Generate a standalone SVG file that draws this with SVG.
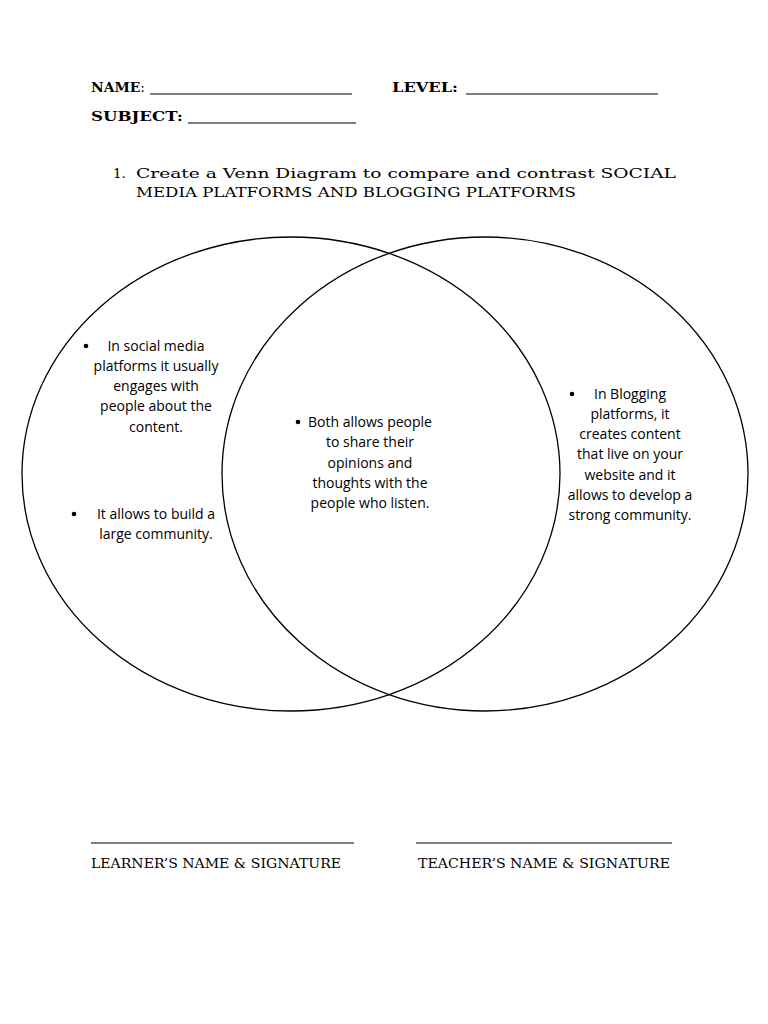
<svg xmlns="http://www.w3.org/2000/svg" width="768" height="1024" viewBox="0 0 768 1024">
<style>
.h{font-family:"DejaVu Serif","Liberation Serif",serif;font-size:13.5px;fill:#000}
.b{font-weight:bold}
.t{font-family:"Open Sans","Liberation Sans",sans-serif;font-size:14px;fill:#000;text-anchor:middle}
.c{fill:none;stroke:#000;stroke-width:1.3}
.l{stroke:#000;stroke-width:1}
</style>
<rect width="768" height="1024" fill="#fff"/>
<g id="header">
<text class="h b" x="91" y="92" textLength="54" lengthAdjust="spacingAndGlyphs">NAME<tspan font-weight="normal">:</tspan></text>
<line class="l" x1="150" y1="94" x2="352" y2="94"/>
<text class="h b" x="392" y="92" textLength="66" lengthAdjust="spacingAndGlyphs">LEVEL:</text>
<line class="l" x1="466" y1="94" x2="658" y2="94"/>
<text class="h b" x="91" y="121" textLength="92" lengthAdjust="spacingAndGlyphs">SUBJECT:</text>
<line class="l" x1="188" y1="123" x2="356" y2="123"/>
<text class="h" x="113" y="178">1.</text>
<text class="h" x="136" y="178" font-size="14" textLength="540" lengthAdjust="spacingAndGlyphs">Create a Venn Diagram to compare and contrast SOCIAL</text>
<text class="h" x="136" y="197" textLength="440" lengthAdjust="spacingAndGlyphs">MEDIA PLATFORMS AND BLOGGING PLATFORMS</text>
</g>
<g id="left-circle"><ellipse class="c" cx="291" cy="474" rx="269" ry="237"/></g>
<g id="right-circle"><ellipse class="c" cx="485" cy="474" rx="263" ry="237"/></g>
<g id="left-text">
<circle cx="86" cy="346" r="2.3"/>
<text class="t" x="156" y="351">In social media</text>
<text class="t" x="156" y="371">platforms it usually</text>
<text class="t" x="156" y="391">engages with</text>
<text class="t" x="156" y="411">people about the</text>
<text class="t" x="156" y="432">content.</text>
<circle cx="74" cy="514" r="2.3"/>
<text class="t" x="156" y="519">It allows to build a</text>
<text class="t" x="156" y="539">large community.</text>
</g>
<g id="center-text">
<circle cx="298" cy="422" r="2.3"/>
<text class="t" x="370" y="427">Both allows people</text>
<text class="t" x="370" y="447">to share their</text>
<text class="t" x="370" y="468">opinions and</text>
<text class="t" x="370" y="488">thoughts with the</text>
<text class="t" x="370" y="508">people who listen.</text>
</g>
<g id="right-text">
<circle cx="572" cy="394" r="2.3"/>
<text class="t" x="630" y="399">In Blogging</text>
<text class="t" x="630" y="419">platforms, it</text>
<text class="t" x="630" y="439">creates content</text>
<text class="t" x="630" y="459">that live on your</text>
<text class="t" x="630" y="480">website and it</text>
<text class="t" x="630" y="500">allows to develop a</text>
<text class="t" x="630" y="520">strong community.</text>
</g>
<g id="signatures">
<line class="l" x1="91" y1="843" x2="354" y2="843"/>
<line class="l" x1="416" y1="843" x2="672" y2="843"/>
<text class="h" x="91" y="868" font-size="12.5" textLength="250" lengthAdjust="spacingAndGlyphs">LEARNER’S NAME &amp; SIGNATURE</text>
<text class="h" x="418" y="868" font-size="12.5" textLength="252" lengthAdjust="spacingAndGlyphs">TEACHER’S NAME &amp; SIGNATURE</text>
</g>
</svg>
